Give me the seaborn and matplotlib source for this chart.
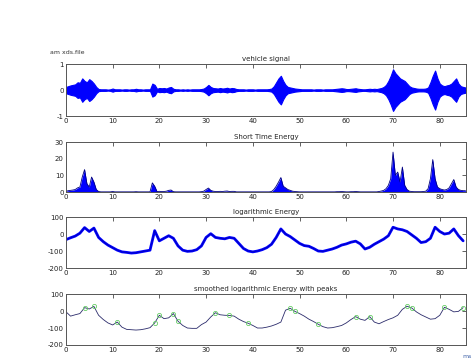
import numpy as np
import pandas as pd
import seaborn as sns
import matplotlib
matplotlib.use('Agg')
import matplotlib.pyplot as plt

# амплитуда сигнала (огибающая), шаг 0.5 с
sig_env = [0.12, 0.15, 0.18, 0.2, 0.22, 0.3, 0.28, 0.45, 0.35, 0.3, 0.42, 0.35, 0.25, 0.12,
           0.04, 0.03, 0.03, 0.03, 0.02, 0.03, 0.06, 0.03, 0.03, 0.03, 0.02, 0.03, 0.03, 0.02,
           0.03, 0.03, 0.05, 0.03, 0.03, 0.02, 0.03, 0.03, 0.03, 0.25, 0.2, 0.05, 0.08, 0.07,
           0.08, 0.06, 0.1, 0.12, 0.05, 0.03, 0.03, 0.02, 0.03, 0.02, 0.03, 0.02, 0.03, 0.03,
           0.03, 0.03, 0.04, 0.06, 0.12, 0.2, 0.12, 0.08, 0.07, 0.06, 0.08, 0.06, 0.07, 0.09,
           0.06, 0.08, 0.07, 0.04, 0.03, 0.03, 0.03, 0.02, 0.03, 0.03, 0.03, 0.02, 0.03, 0.03,
           0.03, 0.03, 0.03, 0.04, 0.06, 0.15, 0.3, 0.45, 0.55, 0.35, 0.2, 0.12, 0.1, 0.08,
           0.06, 0.05, 0.04, 0.03, 0.03, 0.03, 0.03, 0.03, 0.02, 0.03, 0.03, 0.03, 0.02, 0.03,
           0.03, 0.03, 0.03, 0.04, 0.05, 0.06, 0.07, 0.06, 0.04, 0.04, 0.05, 0.06, 0.07, 0.05,
           0.04, 0.03, 0.03, 0.04, 0.05, 0.04, 0.05, 0.04, 0.06, 0.08, 0.12, 0.2, 0.35, 0.55,
           0.8, 0.65, 0.55, 0.45, 0.4, 0.35, 0.25, 0.15, 0.1, 0.08, 0.06, 0.05, 0.05, 0.05,
           0.06, 0.1, 0.3, 0.55, 0.75, 0.45, 0.25, 0.18, 0.15, 0.18, 0.2, 0.25, 0.35, 0.45,
           0.25, 0.15, 0.12, 0.1]

# кратковременная энергия, шаг 0.5 с
energy = [0.5, 0.8, 1.0, 1.2, 1.5, 2.5, 3.0, 9.0, 13.5, 5.0, 3.0, 9.0, 6.0, 1.5,
          0.3, 0.1, 0.1, 0.1, 0.1, 0.1, 0.3, 0.1, 0.1, 0.1, 0.1, 0.1, 0.1, 0.1,
          0.1, 0.1, 0.2, 0.1, 0.1, 0.1, 0.1, 0.1, 0.1, 5.5, 3.5, 0.3, 0.4, 0.3,
          0.3, 0.5, 1.0, 1.2, 0.2, 0.1, 0.1, 0.1, 0.1, 0.1, 0.1, 0.1, 0.1, 0.1,
          0.1, 0.1, 0.2, 0.5, 1.5, 2.4, 1.0, 0.5, 0.3, 0.3, 0.4, 0.3, 0.5, 0.6,
          0.3, 0.4, 0.4, 0.1, 0.1, 0.1, 0.1, 0.1, 0.1, 0.1, 0.1, 0.1, 0.1, 0.1,
          0.1, 0.1, 0.1, 0.1, 0.3, 1.5, 3.5, 6.0, 8.7, 3.5, 2.5, 1.5, 1.0, 0.5,
          0.3, 0.2, 0.1, 0.1, 0.1, 0.1, 0.1, 0.1, 0.1, 0.1, 0.1, 0.1, 0.1, 0.1,
          0.1, 0.1, 0.1, 0.1, 0.2, 0.2, 0.3, 0.2, 0.1, 0.1, 0.2, 0.2, 0.3, 0.2,
          0.1, 0.1, 0.1, 0.1, 0.1, 0.1, 0.1, 0.1, 0.3, 0.6, 1.0, 2.0, 4.0, 8.0,
          24.0, 10.0, 12.0, 6.0, 15.0, 4.0, 1.5, 0.5, 0.3, 0.2, 0.2, 0.2, 0.2, 0.3,
          0.5, 2.0, 8.0, 19.5, 8.0, 3.0, 2.0, 1.5, 1.2, 1.5, 2.5, 5.0, 7.5, 3.0,
          1.5, 1.0, 0.8, 0.8]

# логарифмическая энергия, шаг 1 с
log_energy = [-33, -22, -12, 5, 38, 15, 35, -20, -45, -65, -80, -95, -105, -108, -112,
              -110, -105, -100, -95, 20, -40, -25, -10, -25, -70, -95, -102, -100, -92,
              -70, -20, 2, -20, -25, -28, -20, -25, -55, -85, -100, -105, -100, -92, -80,
              -60, -20, 30, 0, -15, -35, -55, -68, -72, -85, -100, -102, -95, -88, -78,
              -65, -58, -48, -42, -58, -88, -78, -60, -45, -30, -10, 40, 30, 25, 15, -5,
              -25, -50, -45, -25, 40, 15, 0, 5, 30, -10, -40]

# сглаженная логарифмическая энергия, шаг 1 с
smooth = [-4, -30, -22, -15, 20, 12, 27, -25, -50, -70, -82, -65, -95, -108, -110,
          -112, -110, -105, -98, -70, -25, -45, -40, -15, -60, -85, -100, -102, -102,
          -80, -65, -35, -10, -22, -25, -26, -30, -48, -62, -72, -85, -100, -100, -95,
          -88, -78, -65, 5, 16, -2, -15, -30, -48, -62, -78, -92, -100, -98, -92, -85,
          -70, -50, -33, -48, -55, -33, -65, -75, -62, -50, -40, -25, 10, 28, 18, -5,
          -22, -35, -48, -45, -25, 22, 10, -5, -2, 20]

# индексы пиков
peaks = [4, 6, 11, 19, 20, 23, 24, 32, 35, 39, 48, 49, 54, 62, 65, 73, 74, 81, 85]

titles = ['vehicle signal', 'Short Time Energy', 'logarithmic Energy',
          'smoothed logarithmic Energy with peaks']
xticks = [0, 10, 20, 30, 40, 50, 60, 70, 80]

sns.set_style('white')
plt.rcParams['font.family'] = ['DejaVu Sans']
plt.rcParams['axes.unicode_minus'] = False

fig = plt.figure(figsize=(4.74, 3.64), dpi=100)
boxes = [[0.139, 0.681, 0.844, 0.143],
         [0.139, 0.4725, 0.844, 0.137],
         [0.139, 0.2637, 0.844, 0.140],
         [0.139, 0.0522, 0.844, 0.140]]
axes = [fig.add_axes(b) for b in boxes]

x_half = np.arange(len(sig_env)) * 0.5
x_full = np.arange(len(log_energy))
x_end = 85.6

# 1) сигнал
ax = axes[0]
env = np.array(sig_env)
ax.fill_between(x_half, -env, env, color='#0000ff', lw=0.8, edgecolor='#0000ff')
ax.set_ylim(-1, 1)
ax.set_yticks([-1, 0, 1])

# 2) энергия
ax = axes[1]
df_e = pd.DataFrame({'t': np.arange(len(energy)) * 0.5, 'e': energy})
ax.fill_between(df_e['t'], 0, df_e['e'], color='#0000ff', lw=0)
sns.lineplot(data=df_e, x='t', y='e', ax=ax, color='#000080', lw=0.6)
ax.set_ylim(0, 30)
ax.set_yticks([0, 10, 20, 30])

# 3) лог-энергия
ax = axes[2]
df_l = pd.DataFrame({'t': x_full, 'l': log_energy})
sns.lineplot(data=df_l, x='t', y='l', ax=ax, color='#0000ff', lw=2.0)
sns.lineplot(data=df_l, x='t', y='l', ax=ax, color='#0000b0', lw=0.5)
ax.set_ylim(-200, 100)
ax.set_yticks([-200, -100, 0, 100])

# 4) сглаженная + пики
ax = axes[3]
df_s = pd.DataFrame({'t': x_full, 's': smooth})
sns.lineplot(data=df_s, x='t', y='s', ax=ax, color='#2b2b6b', lw=0.6)
df_p = df_s.iloc[peaks]
ax.plot(df_p['t'], df_p['s'], 'o', ms=3, mfc='none', mec='#66cc66', mew=0.6)
ax.set_ylim(-200, 100)
ax.set_yticks([-200, -100, 0, 100])

for ax, t in zip(axes, titles):
    ax.set_xlim(0, x_end)
    ax.set_xticks(xticks)
    ax.set_xlabel('')
    ax.set_ylabel('')
    ax.set_title(t, fontsize=5, pad=2)
    ax.tick_params(direction='in', top=True, right=True, length=3, width=0.5,
                   labelsize=5, pad=1.5, colors='#222222')
    for s in ax.spines.values():
        s.set_color('#555555')
        s.set_linewidth(0.7)

fig.text(50 / 474, 1 - 52 / 364, 'am xds.file', fontsize=4.5, color='#333333',
         va='center')
fig.text(462 / 474, 1 - 357 / 364, 'ms', fontsize=4.5, color='#4466aa', va='center')

fig.savefig('out.png', dpi=100)
